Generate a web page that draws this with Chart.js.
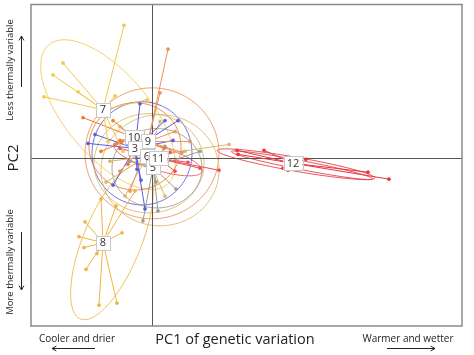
<!DOCTYPE html>
<html>
<head>
<meta charset="utf-8">
<script src="https://cdn.jsdelivr.net/npm/chart.js@4.4.1/dist/chart.umd.min.js"></script>
<style>
html,body{margin:0;padding:0;background:#fff;}
canvas{display:block;}
</style>
</head>
<body>
<canvas id="c" width="474" height="355"></canvas>
<script>
// ---- data (PC1, PC2 scores) ----
const groupLabels = ['7', '8', '12', '10', '9', '3', '6', '5', '11'];
const groupColors = ['#f2c94a', '#efb43e', '#e6343c', '#f07a2a', '#e8935a', '#5a5ae2', '#d8b866', '#9c9c8e', '#e8505a'];
const centroidX = [-4.9, -4.9, 14.1, -1.8, -0.4, -1.7, -0.5, 0.1, 0.6];
const centroidY = [4.9, -8.5, -0.5, 2.1, 1.7, 1.0, 0.2, -0.9, 0.0];

const pts7 = [[-2.8, 13.4], [-8.9, 9.6], [-9.9, 8.4], [-7.4, 6.7], [-10.8, 6.2], [-3.7, 6.3], [-0.5, 5.9], [-4.4, 1.7], [-2.9, 0.7]];
const pts8 = [[-6.7, -6.4], [-7.3, -7.9], [-6.8, -9.0], [-5.5, -9.6], [-6.6, -11.2], [-5.3, -14.8], [-3.5, -14.6], [-3.0, -7.5], [-5.1, -4.1], [-3.6, -4.8], [-1.7, -3.3]];
const pts12 = [[8.5, 0.8], [8.6, 0.4], [11.2, 0.8], [13.1, -1.0], [13.6, -1.2], [15.4, -0.1], [21.6, -1.4], [23.7, -2.1]];
const pts10 = [[-6.9, 4.1], [-3.9, 3.8], [-3.7, 1.4], [-3.2, 1.8], [-5.1, 0.7], [-0.5, 1.6], [1.2, 1.0], [-2.4, -0.6]];
const pts9 = [[1.6, 11.0], [0.8, 6.6], [3.8, 1.7], [2.3, 2.7], [-3.2, -1.3], [-2.2, -3.3], [3.0, 0.6]];
const pts3 = [[-1.2, 5.5], [-5.7, 2.4], [-6.4, 1.5], [1.3, 3.8], [2.6, 3.8], [-3.9, -2.7], [-1.5, -1.1], [-1.1, -2.2], [-0.7, -5.1], [2.1, 1.8]];
const pts6 = [[-3.2, 3.2], [-4.2, -0.3], [-2.7, -3.8], [0.8, 3.7], [3.3, 0.7], [1.3, -3.8], [7.7, 1.4], [-4.6, -2.4]];
const pts5 = [[2.4, -3.1], [0.6, -5.3], [-0.9, -6.3], [4.8, 0.7], [-2.2, -0.3], [1.3, 1.2], [0.4, -2.4]];
const pts11 = [[3.6, -0.4], [4.8, -1.0], [6.7, -1.2], [2.3, -1.3], [-3.2, 1.0], [-1.5, 0.4], [1.8, 0.6]];
const groupPoints = [pts7, pts8, pts12, pts10, pts9, pts3, pts6, pts5, pts11];

// confidence ellipses: centre, semi-axes, rotation (degrees)
const ellGroup = [0, 1, 2, 2, 3, 4, 5, 6, 6, 7, 8];
const ellCX = [-4.4, -4.0, 14.4, 15.0, -1.7, 0.0, -1.0, -0.3, 0.8, 0.5, 0.6];
const ellCY = [4.4, -8.4, -0.6, -0.7, 1.2, 0.5, 0.5, -0.5, -1.2, -1.0, 0.0];
const ellA = [9.2, 8.4, 8.0, 7.2, 4.6, 6.7, 5.0, 5.5, 5.9, 4.5, 4.6];
const ellB = [4.2, 2.9, 0.7, 0.45, 4.4, 6.6, 5.2, 5.0, 5.6, 4.0, 1.2];
const ellAngle = [-50, 68, -10, -11, 0, 0, 0, 0, 0, 0, -17];

// axis limits
const xMin = -12.1, xMax = 31.0, yMin = -16.9, yMax = 15.5;

// ---- datasets ----
const datasets = [];
groupPoints.forEach((pts, i) => {
  const spokes = [];
  pts.forEach(p => {
    spokes.push({x: centroidX[i], y: centroidY[i]});
    spokes.push({x: p[0], y: p[1]});
    spokes.push({x: centroidX[i], y: null});
  });
  datasets.push({
    type: 'line', data: spokes, borderColor: groupColors[i], borderWidth: 1,
    pointRadius: 0, spanGaps: false, fill: false, tension: 0, order: 2
  });
  datasets.push({
    type: 'scatter', data: pts.map(p => ({x: p[0], y: p[1]})),
    backgroundColor: groupColors[i], borderColor: groupColors[i], pointRadius: 1.6,
    borderWidth: 0.5, order: 1
  });
});

function toPx(chart, x, y) {
  return [chart.scales.x.getPixelForValue(x), chart.scales.y.getPixelForValue(y)];
}

const decor = {
  id: 'decor',
  beforeDatasetsDraw(chart) {
    const ctx = chart.ctx, a = chart.chartArea;
    ctx.save();
    ctx.beginPath();
    ctx.rect(a.left, a.top, a.right - a.left, a.bottom - a.top);
    ctx.clip();
    // ellipses
    for (let k = 0; k < ellCX.length; k++) {
      const th = ellAngle[k] * Math.PI / 180;
      const ux = Math.cos(th), uy = Math.sin(th), vx = -Math.sin(th), vy = Math.cos(th);
      ctx.beginPath();
      for (let s = 0; s <= 120; s++) {
        const t = s / 120 * 2 * Math.PI;
        const dx = ellA[k] * Math.cos(t), dy = ellB[k] * Math.sin(t);
        const [px, py] = toPx(chart, ellCX[k] + dx * ux + dy * vx, ellCY[k] + dx * uy + dy * vy);
        if (s === 0) ctx.moveTo(px, py); else ctx.lineTo(px, py);
      }
      ctx.strokeStyle = groupColors[ellGroup[k]];
      ctx.globalAlpha = 0.85;
      ctx.lineWidth = 1;
      ctx.stroke();
    }
    ctx.globalAlpha = 1;
    // zero lines
    const [x0] = toPx(chart, 0, 0);
    const [, y0] = toPx(chart, 0, 0);
    ctx.strokeStyle = '#555';
    ctx.lineWidth = 1;
    ctx.beginPath();
    ctx.moveTo(Math.round(x0) + 0.5, a.top); ctx.lineTo(Math.round(x0) + 0.5, a.bottom);
    ctx.moveTo(a.left, Math.round(y0) + 0.5); ctx.lineTo(a.right, Math.round(y0) + 0.5);
    ctx.stroke();
    ctx.restore();
  },
  afterDatasetsDraw(chart) {
    const ctx = chart.ctx, a = chart.chartArea;
    ctx.save();
    // centroid labels
    ctx.font = '11px "Open Sans", sans-serif';
    ctx.textAlign = 'center';
    ctx.textBaseline = 'middle';
    groupLabels.forEach((lab, i) => {
      const [px, py] = toPx(chart, centroidX[i], centroidY[i]);
      const w = lab.length > 1 ? 19 : 14, h = 14;
      ctx.fillStyle = '#fff';
      ctx.fillRect(px - w / 2, py - h / 2, w, h);
      ctx.strokeStyle = '#c8c8c8';
      ctx.lineWidth = 1;
      ctx.strokeRect(Math.round(px - w / 2) + 0.5, Math.round(py - h / 2) + 0.5, w, h);
      ctx.fillStyle = '#333';
      ctx.fillText(lab, px, py + 0.5);
    });
    // frame
    ctx.strokeStyle = '#8a8a8a';
    ctx.lineWidth = 1.5;
    ctx.strokeRect(a.left, a.top, a.right - a.left, a.bottom - a.top);
    ctx.restore();
  },
  afterDraw(chart) {
    const ctx = chart.ctx;
    ctx.save();
    ctx.fillStyle = '#222';
    ctx.strokeStyle = '#222';
    ctx.textAlign = 'center';
    ctx.textBaseline = 'middle';
    // left titles
    const vtext = (txt, x, y, size) => {
      ctx.save(); ctx.translate(x, y); ctx.rotate(-Math.PI / 2);
      ctx.font = size + 'px "Open Sans", sans-serif';
      ctx.fillText(txt, 0, 0); ctx.restore();
    };
    vtext('PC2', 14, 158, 15);
    vtext('Less thermally variable', 10, 70, 9.5);
    vtext('More thermally variable', 10, 262, 9.5);
    const arrow = (x1, y1, x2, y2) => {
      ctx.lineWidth = 1;
      ctx.beginPath(); ctx.moveTo(x1, y1); ctx.lineTo(x2, y2); ctx.stroke();
      const ang = Math.atan2(y2 - y1, x2 - x1);
      ctx.beginPath();
      ctx.moveTo(x2 - 5 * Math.cos(ang - 0.5), y2 - 5 * Math.sin(ang - 0.5));
      ctx.lineTo(x2, y2);
      ctx.lineTo(x2 - 5 * Math.cos(ang + 0.5), y2 - 5 * Math.sin(ang + 0.5));
      ctx.stroke();
    };
    arrow(21.5, 87, 21.5, 36);
    arrow(21.5, 232, 21.5, 290);
    // bottom titles
    ctx.font = '14.5px "Open Sans", sans-serif';
    ctx.fillText('PC1 of genetic variation', 235, 340);
    ctx.font = '10px "Open Sans", sans-serif';
    ctx.fillText('Cooler and drier', 77, 339);
    ctx.fillText('Warmer and wetter', 408, 339);
    arrow(95, 348.5, 52, 348.5);
    arrow(387, 348.5, 435, 348.5);
    ctx.restore();
  }
};

new Chart(document.getElementById('c'), {
  data: {datasets},
  options: {
    responsive: false, animation: false, devicePixelRatio: 1,
    layout: {padding: {left: 31, right: 12, top: 2, bottom: 29}},
    scales: {
      x: {type: 'linear', min: xMin, max: xMax, display: false},
      y: {type: 'linear', min: yMin, max: yMax, display: false}
    },
    plugins: {legend: {display: false}, tooltip: {enabled: false}}
  },
  plugins: [decor]
});
</script>
</body>
</html>
